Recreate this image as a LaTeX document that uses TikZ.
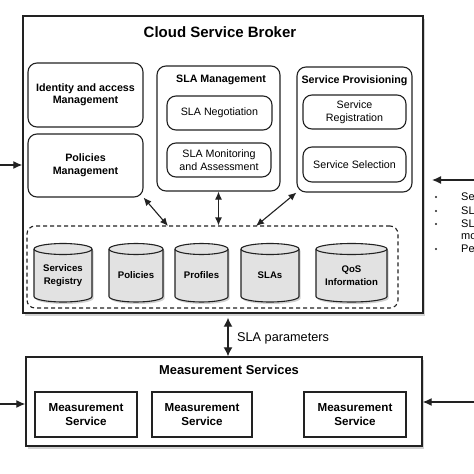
\documentclass[tikz,border=0pt]{standalone}
\usepackage{fontspec}
\setmainfont{Liberation Sans}
\usetikzlibrary{arrows.meta,shadows}
\definecolor{ink}{HTML}{222222}
\definecolor{cylfill}{HTML}{E2E2E2}
\tikzset{
  outerbox/.style={draw=ink, line width=1.4pt, fill=white, inner sep=0pt,
    drop shadow={shadow xshift=2pt, shadow yshift=-3pt, opacity=0.35}},
  rbox/.style={draw=ink, line width=1.1pt, rounded corners=9pt, fill=white, inner sep=0pt, align=center},
  sbox/.style={draw=ink, line width=1.1pt, fill=white, inner sep=0pt, align=center},
  btitle/.style={font=\bfseries\fontsize{10.7}{12.5}\selectfont, align=center},
  rtext/.style={font=\fontsize{10.7}{12.5}\selectfont, align=center},
  cyltext/.style={font=\bfseries\fontsize{9.6}{12.5}\selectfont, align=center},
  listtext/.style={font=\fontsize{11}{13}\selectfont, anchor=west, inner sep=0pt},
  bulletdot/.style={circle, fill=ink, inner sep=0pt, minimum size=2.2pt},
  arr/.style={-{Latex[length=9pt,width=8pt]}, line width=1.3pt, draw=ink},
  darr/.style={{Latex[length=8pt,width=7pt]}-{Latex[length=8pt,width=7pt]}, line width=1.1pt, draw=ink},
  bigdarr/.style={{Latex[length=9pt,width=9pt]}-{Latex[length=9pt,width=9pt]}, line width=1.3pt, draw=ink},
  cyl/.style={draw=ink, line width=1.1pt, fill=cylfill}
}
\newcommand\dbcyl[4]{% name, center x, radius, text
  \path[cyl, drop shadow={shadow xshift=1.5pt, shadow yshift=-2pt, opacity=0.35}]
    (#2-#3,249) -- (#2-#3,296.5) arc[start angle=180, end angle=0, x radius=#3, y radius=5.5]
    -- (#2+#3,249) arc[start angle=0, end angle=-180, x radius=#3, y radius=5.5] -- cycle;
  \draw[ink, line width=1.1pt] (#2-#3,249) arc[start angle=180, end angle=0, x radius=#3, y radius=5.5];
  \node[cyltext] (#1) at (#2,275.5) {#4};
}
\begin{document}
\begin{tikzpicture}[x=1pt,y=-1pt]
\useasboundingbox (0,0) rectangle (474,474);
\fill[white] (0,0) rectangle (474,474);

% Cloud Service Broker
\node[outerbox, minimum width=400pt, minimum height=297pt] (broker) at (223,164.5) {};
\node[font=\bfseries\fontsize{15}{18}\selectfont] (brokertitle) at (220,32) {Cloud Service Broker};

\node[rbox, minimum width=115pt, minimum height=64pt, btitle] (iam) at (85.5,95) {Identity and access\\Management};
\node[rbox, minimum width=115pt, minimum height=63pt, btitle] (pol) at (85.5,165.5) {Policies\\Management};

\node[rbox, minimum width=123pt, minimum height=125pt] (slam) at (218.5,128.5) {};
\node[btitle] (slamtitle) at (221,80) {SLA Management};
\node[rbox, minimum width=105pt, minimum height=34pt, rtext] (slaneg) at (219.5,113) {SLA Negotiation};
\node[rbox, minimum width=104pt, minimum height=34pt, rtext] (slamon) at (219,160) {SLA Monitoring\\and Assessment};

\node[rbox, minimum width=115pt, minimum height=125pt] (sp) at (354.5,129.5) {};
\node[btitle] (sptitle) at (354.5,81) {Service Provisioning};
\node[rbox, minimum width=103pt, minimum height=34pt, rtext] (sreg) at (354.5,112) {Service\\Registration};
\node[rbox, minimum width=103pt, minimum height=35pt, rtext] (ssel) at (354.5,164.5) {Service Selection};

% repository
\node[draw=ink, line width=1.1pt, dash pattern=on 4pt off 3pt, rounded corners=8pt,
  minimum width=371pt, minimum height=82pt, inner sep=0pt] (repo) at (212.5,267) {};
\dbcyl{dbsr}{63}{29}{Services\\Registry}
\dbcyl{dbpol}{136}{27}{Policies}
\dbcyl{dbprof}{201.5}{26.5}{Profiles}
\dbcyl{dbsla}{270}{29}{SLAs}
\dbcyl{dbqos}{351.5}{35.5}{QoS\\Information}

\coordinate (r1) at (168,226);
\coordinate (r3) at (256,226);
\draw[darr] (pol.south east) -- (r1);
\draw[darr] (slam.south) -- (slam.south |- repo.north);
\draw[darr] (sp.south west) -- (r3);

% external arrows to broker
\coordinate (lin) at (0,165);
\draw[arr] (lin) -- (broker.west |- lin);
\coordinate (rin) at (474,180);
\coordinate (rtip) at (432,180);
\draw[arr] (rin) -- (rtip);

% right side list
\foreach \yy/\txt in {197/Se, 211/SL, 224/SL, 249/Pe}{
  \node[bulletdot] at (436,\yy) {};
  \node[listtext] at (461,\yy) {\txt};
}
\node[listtext] (mo) at (461,237) {mo};

% Measurement services
\node[outerbox, minimum width=396pt, minimum height=89pt] (meas) at (224,401.5) {};
\node[font=\bfseries\fontsize{12.9}{15}\selectfont] (meastitle) at (229,370) {Measurement Services};
\node[sbox, minimum width=102pt, minimum height=45pt, font=\bfseries\fontsize{11.6}{13.5}\selectfont] (ms1) at (86,414.5) {Measurement\\Service};
\node[sbox, minimum width=100pt, minimum height=45pt, font=\bfseries\fontsize{11.6}{13.5}\selectfont] (ms2) at (202,414.5) {Measurement\\Service};
\node[sbox, minimum width=102pt, minimum height=45pt, font=\bfseries\fontsize{11.6}{13.5}\selectfont] (ms3) at (355,414.5) {Measurement\\Service};

\coordinate (px) at (228,0);
\draw[bigdarr, shorten <=4pt] (broker.south -| px) -- (meas.north -| px);
\node[font=\fontsize{12.7}{15}\selectfont, anchor=west, inner sep=0pt] (slaparam) at (237,338) {SLA parameters};

\coordinate (mlin) at (0,404);
\draw[arr] (mlin) -- (meas.west |- mlin);
\coordinate (mrin) at (474,402);
\draw[arr] (mrin) -- (meas.east |- mrin);
\end{tikzpicture}
\end{document}
